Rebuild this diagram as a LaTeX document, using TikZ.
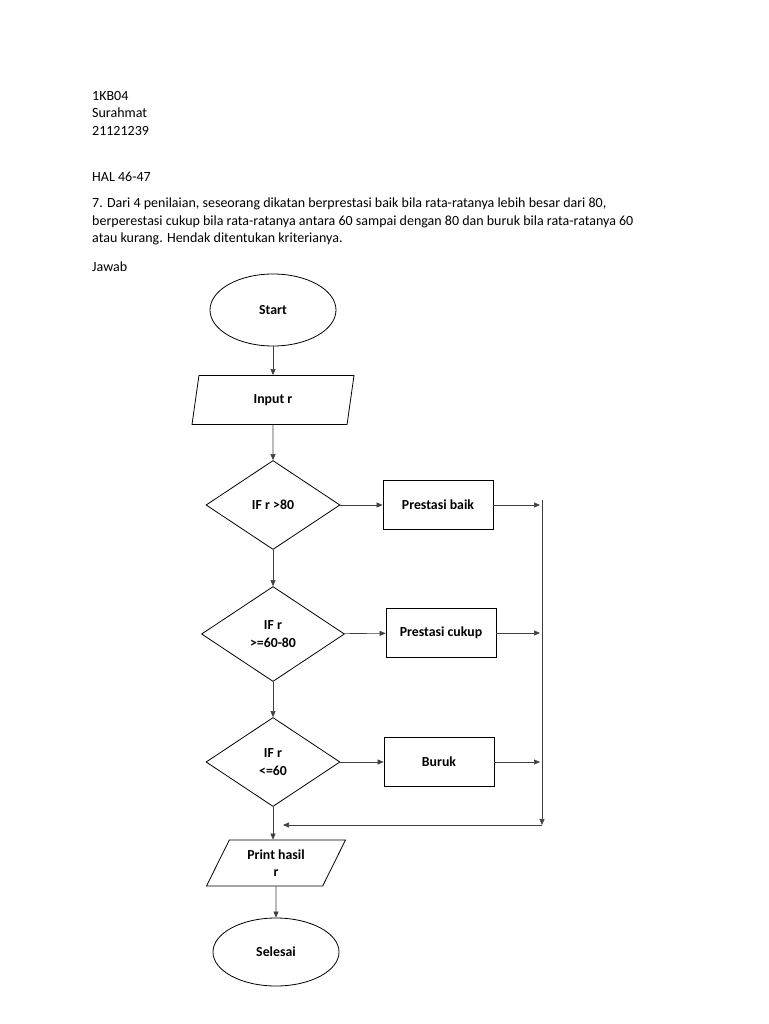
\documentclass[tikz,border=0pt]{standalone}
\usepackage{fontspec}
\setmainfont{Carlito}
\usetikzlibrary{shapes.geometric,arrows.meta}

\tikzset{
  teks/.style={anchor=base west, inner sep=0pt, font=\fontsize{14}{17.5}\selectfont},
  flow/.style={draw, line width=0.8pt, inner sep=0pt, align=center,
    font=\bfseries\fontsize{13.8}{17.5}\selectfont},
  terminal/.style={flow, ellipse, minimum width=126pt, minimum height=72pt},
  io/.style={flow, trapezium, trapezium stretches body, trapezium left angle=58,
    trapezium right angle=122, minimum height=49pt},
  decision/.style={flow, diamond, minimum width=134pt, minimum height=89pt},
  process/.style={flow, rectangle, minimum width=110pt, minimum height=49pt},
  link/.style={-{Triangle[length=6pt,width=5pt]}, line width=0.6pt, black!75}
}

\begin{document}
\begin{tikzpicture}[x=1pt, y=-1pt]
    \useasboundingbox[fill=white] (0,0) rectangle (768,1024);

    % Identitas dan soal
    \node[teks] (kelas) at (92,101) {1KB04};
    \node[teks] (nama) at (92,118) {Surahmat};
    \node[teks] (npm) at (92,136) {21121239};
    \node[teks] (hal) at (92,182) {HAL 46-47};
    % base = garis dasar baris terakhir
    \node[teks, align=left] (soal) at (92,243) {7. Dari 4 penilaian, seseorang dikatan berprestasi baik bila rata-ratanya lebih besar dari 80,\\
      berperestasi cukup bila rata-ratanya antara 60 sampai dengan 80 dan buruk bila rata-ratanya 60\\
      atau kurang. Hendak ditentukan kriterianya.};
    \node[teks] (jawab) at (92,271) {Jawab};

    % Flowchart
    \node[terminal] (start) at (273,310) {Start};
    \node[io, minimum width=162pt] (input) at (273,400) {Input r};
    \node[decision] (cek1) at (273,505) {IF r >80};
    \node[decision, minimum width=143pt, minimum height=95pt] (cek2) at (273,634) {IF r\\>=60-80};
    \node[decision] (cek3) at (273,762) {IF r\\<=60};
    \node[process] (baik) at (438,505) {Prestasi baik};
    \node[process] (cukup) at (441,633) {Prestasi cukup};
    \node[process] (buruk) at (439,762) {Buruk};
    \node[io, minimum width=139pt, minimum height=46pt, trapezium left angle=50,
      trapezium right angle=130] (cetak) at (276,863) {Print hasil\\r};
    \node[terminal, minimum height=68pt] (selesai) at (276,952) {Selesai};

    \coordinate (kananAtas) at (542,500);
    \coordinate (kananBawah) at (542,825);
    \coordinate (kembali) at (283,825);

    % Panah
    \draw[link] (start) -- (input);
    \draw[link] (input) -- (cek1);
    \draw[link] (cek1) -- (cek2);
    \draw[link] (cek2) -- (cek3);
    \draw[link] (cek3.south) -- (cek3.south |- cetak.north);
    \draw[link] (cetak) -- (selesai);
    \draw[link] (cek1) -- (baik);
    \draw[link] (cek2) -- (cukup);
    \draw[link] (cek3) -- (buruk);
    \draw[link, shorten >=2pt] (baik) -- (baik -| kananAtas);
    \draw[link, shorten >=2pt] (cukup) -- (cukup -| kananAtas);
    \draw[link, shorten >=2pt] (buruk) -- (buruk -| kananAtas);
    \draw[link] (kananAtas) -- (kananBawah);
    \draw[link] (kananBawah) -- (kembali);
\end{tikzpicture}
\end{document}
